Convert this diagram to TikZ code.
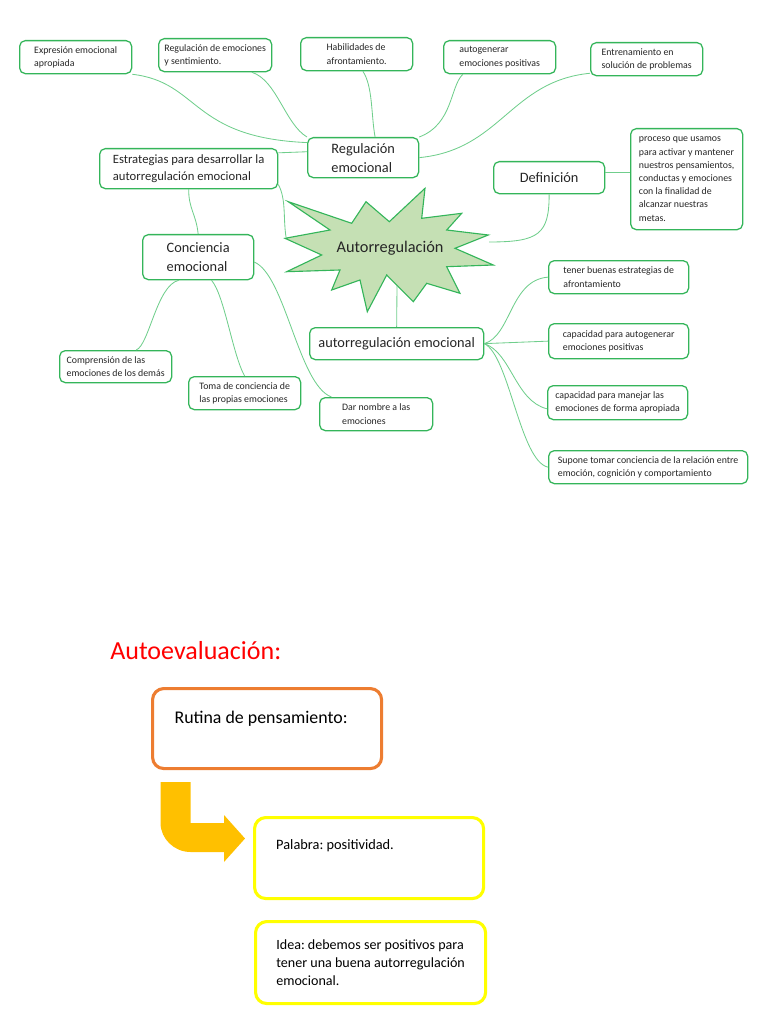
\documentclass[tikz,border=0pt]{standalone}
\usepackage{fontspec}
\setmainfont{Carlito}
\frenchspacing

\definecolor{verde}{RGB}{52,181,90}
\definecolor{verdeclaro}{RGB}{112,206,140}
\definecolor{estrella}{RGB}{197,224,180}
\definecolor{naranja}{RGB}{237,125,49}
\definecolor{amarillo}{RGB}{255,255,0}
\definecolor{ambar}{RGB}{255,192,0}
\definecolor{rojo}{RGB}{255,0,0}

\begin{document}
\begin{tikzpicture}[x=0.025cm, y=-0.025cm,
    caja/.style={draw=verde, line width=0.9pt, rounded corners=4pt, anchor=north west, align=left, text=black!85, fill=white, minimum width=2.8cm, minimum height=0.825cm},
    chica/.style={caja, font=\fontsize{7}{9.5}\selectfont},
    grande/.style={caja, font=\fontsize{10.2}{13.5}\selectfont},
    rama/.style={draw=verdeclaro, line width=0.6pt},
    marco/.style={line width=2.2pt, rounded corners=8pt, anchor=north west}]
    \useasboundingbox (0,0) rectangle (768,1024);

    % mapa: fila de arriba
    \node[chica] (expr) at (19,40) {Expresión emocional\\apropiada};
    \node[chica, minimum width=2.825cm] (regem) at (158,38) {Regulación de emociones\\y sentimiento.};
    \node[chica] (habil) at (300,37) {Habilidades de\\afrontamiento.};
    \node[chica] (autog) at (443,40) {autogenerar\\emociones positivas};
    \node[chica] (entren) at (590,42) {Entrenamiento en\\solución de problemas};

    \node[grande, minimum width=2.775cm, minimum height=1cm] (regul) at (307,137) {Regulación\\emocional};
    \node[caja, font=\fontsize{9}{12}\selectfont, minimum width=4.45cm, minimum height=1cm] (estrat) at (99,148) {Estrategias para desarrollar la\\autorregulación emocional};
    \node[grande, align=center, minimum width=2.775cm, minimum height=0.8cm] (defin) at (493,161) {Definición};
    \node[chica, font=\fontsize{7}{9.4}\selectfont, minimum height=2.525cm] (proceso) at (630,128) {proceso que usamos\\para activar y mantener\\nuestros pensamientos,\\conductas y emociones\\con la finalidad de\\alcanzar nuestras\\metas.};

    % estrella central
    \draw[verde, fill=estrella, line width=0.8pt] (288.3,201.7) -- (351.7,223.3) -- (366,201.7) -- (389.3,221.7) -- (425,188.3) -- (421.7,218.3) -- (461.7,213.3) -- (446.7,230) -- (488.3,235) -- (455,248.3) -- (493.3,265) -- (446.7,266.7) -- (460,293.3) -- (426.7,283.3) -- (413.3,301.7) -- (386.7,275) -- (367.3,311.7) -- (360,280) -- (331.7,290) -- (340,270) -- (286.7,271.7) -- (321.7,255) -- (285,238.3) -- (330,230) -- cycle;
    \node[font=\fontsize{11.6}{14}\selectfont, text=black!85] (auto) at (390,248) {Autorregulación};
    \coordinate (starW) at (286,237);
    \coordinate (starE) at (489,242);
    \coordinate (starS) at (397,286);

    \node[grande, minimum width=2.775cm, minimum height=1.125cm] (conc) at (142,234) {Conciencia\\emocional};
    \node[grande, align=center, minimum width=4.35cm, minimum height=0.8cm] (autoemo) at (309,327) {autorregulación emocional};

    \node[chica, minimum height=0.8cm] (compr) at (59,350) {Comprensión de las\\emociones de los demás};
    \node[chica] (toma) at (188,376) {Toma de conciencia de\\las propias emociones};
    \node[chica, minimum width=2.825cm] (darnom) at (319,397) {Dar nombre a las\\emociones};

    \node[chica, minimum width=3.5cm] (tener) at (548,260) {tener buenas estrategias de\\afrontamiento};
    \node[chica, minimum width=3.5cm, minimum height=0.875cm] (capauto) at (548,323) {capacidad para autogenerar\\emociones positivas};
    \node[chica, minimum width=3.5cm, minimum height=0.85cm] (capman) at (547,385) {capacidad para manejar las\\emociones de forma apropiada};
    \node[chica, minimum width=4.975cm] (supone) at (548,450) {Supone tomar conciencia de la relación entre\\emoción, cognición y comportamiento};

    % ramas
    \draw[rama] (expr.south east) .. controls +(68,8) and +(-117,-5) .. (regul.165);
    \draw[rama] (regem.-25) .. controls +(25,8) and +(-22,-13) .. (regul.north west);
    \draw[rama] (habil.-70) .. controls +(10,15) and +(-4,-22) .. (regul.60);
    \draw[rama] (autog.-155) .. controls +(-13,12) and +(34,-13) .. (regul.north east);
    \draw[rama] (entren.-166) .. controls +(-80,8) and +(82,-8) .. (regul.east);
    \draw[rama] (estrat.10) -- (regul.174);
    \draw[rama] (estrat.south) .. controls +(0,20) and +(-2,-20) .. (conc.north);
    \draw[rama] (estrat.-10) .. controls +(8,15) and +(-3,-20) .. (starW);
    \draw[rama] (defin.5) -- (defin.5 -| proceso.west);
    \draw[rama] (defin.south) .. controls +(0,40) and +(50,0) .. (starE);
    \draw[rama] (starS) -- (autoemo.north);
    \draw[rama] (conc.-130) .. controls +(-22,5) and +(13,-5) .. (compr.39);
    \draw[rama] (conc.-60) .. controls +(13,15) and +(-12,-21) .. (toma.north);
    \draw[rama] (conc.-5) .. controls +(31,13) and +(-33,-12) .. (darnom.159);
    \draw[rama] (autoemo.east) .. controls +(27,-8) and +(-38,3) .. (tener.west);
    \draw[rama] (autoemo.east) -- (capauto.west);
    \draw[rama] (autoemo.east) .. controls +(27,9) and +(-32,-8) .. (capman.185);
    \draw[rama] (autoemo.east) .. controls +(25,12) and +(-28,-6) .. (supone.west);

    % autoevaluacion
    \node[anchor=base west, inner sep=0, text=rojo, font=\fontsize{18.5}{22}\selectfont] (titulo) at (110,659) {Autoevaluación:};
    \node[marco, draw=naranja, minimum width=5.725cm, inner ysep=0, text height=0.875cm, text depth=1.125cm, font=\fontsize{12.7}{15}\selectfont] (rutina) at (151,687) {Rutina de pensamiento:\rule{0.3cm}{0pt}};
    \fill[ambar] (160.5,782) -- (190.5,782) -- (190.5,823) -- (224,823) -- (224,815) -- (245,838.5) -- (224,862) -- (224,852) -- (190.5,852) .. controls (174,852) and (160.5,838.5) .. (160.5,823) -- cycle;
    \node[marco, draw=amarillo, minimum width=5.725cm, inner ysep=0, text height=0.8cm, text depth=1.225cm, font=\fontsize{10.2}{13}\selectfont] (palabra) at (253,816) {Palabra: positividad.\rule{1.7cm}{0pt}};
    \node[marco, draw=amarillo, align=left, minimum width=5.75cm, minimum height=2.05cm, font=\fontsize{10}{13}\selectfont] (idea) at (254,920) {Idea: debemos ser positivos para\\tener una buena autorregulación\\emocional.};
\end{tikzpicture}
\end{document}
